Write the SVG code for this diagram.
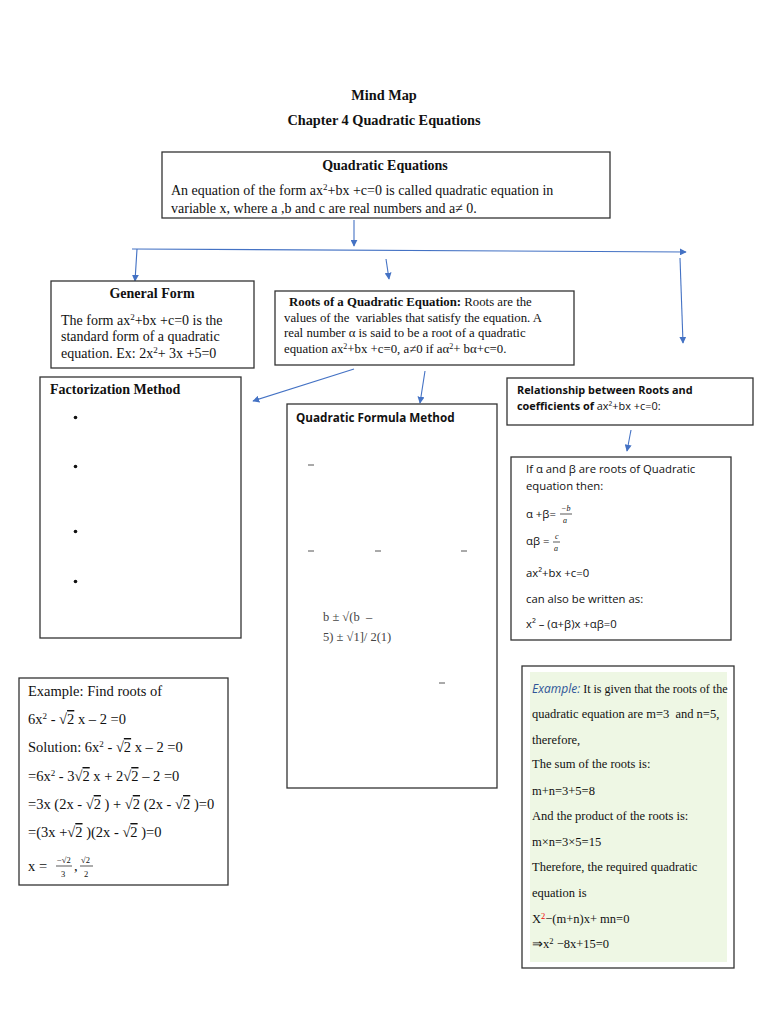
<svg xmlns="http://www.w3.org/2000/svg" width="768" height="1024" viewBox="0 0 768 1024">
<defs>
<marker id="ah" viewBox="0 0 10 10" refX="9" refY="5" markerWidth="7" markerHeight="7" orient="auto" markerUnits="userSpaceOnUse">
<path d="M0,0 L10,5 L0,10 z" fill="#4472c4"/>
</marker>
<style>
.box{fill:#fff;stroke:#333;stroke-width:1.3}
.ser{font-family:"Liberation Serif","Times New Roman",serif;fill:#111;white-space:pre}
.sans{font-family:"Open Sans","Noto Sans","Liberation Sans",sans-serif;fill:#111;white-space:pre}
.b{font-weight:bold}
.con{stroke:#4472c4;stroke-width:1.1;fill:none;marker-end:url(#ah)}
.ov{text-decoration:overline}
</style>
</defs>
<rect width="768" height="1024" fill="#fff"/>
<text class="ser b" x="384" y="100" font-size="14.3" text-anchor="middle">Mind Map</text>
<text class="ser b" x="384" y="125" font-size="14.3" text-anchor="middle">Chapter 4 Quadratic Equations</text>

<g id="connectors">
<path class="con" d="M354,220 L354,246"/>
<path class="con" d="M132,249 L686,252"/>
<path class="con" d="M137,249 L135,281"/>
<path class="con" d="M386,259 L389,279"/>
<path class="con" d="M680,258 L683,343"/>
<path class="con" d="M354,369 L253,401"/>
<path class="con" d="M425,371 L420,403"/>
<path class="con" d="M631,430 L627,451"/>
</g>

<g id="quadratic-equations">
<rect class="box" x="162" y="152" width="448" height="66"/>
<text class="ser b" x="385" y="170" font-size="14" text-anchor="middle">Quadratic Equations</text>
<text class="ser" x="171" y="195" font-size="14">An equation of the form ax<tspan font-size="9" dy="-5">2</tspan><tspan dy="5">+bx +c=0 is called quadratic equation in</tspan></text>
<text class="ser" x="171" y="213" font-size="14">variable x, where a ,b and c are real numbers and a≠ 0.</text>
</g>

<g id="general-form">
<rect class="box" x="51" y="281" width="203" height="87"/>
<text class="ser b" x="152" y="298" font-size="14" text-anchor="middle">General Form</text>
<text class="ser" x="61" y="325" font-size="14">The form ax<tspan font-size="9" dy="-5">2</tspan><tspan dy="5">+bx +c=0 is the</tspan></text>
<text class="ser" x="61" y="341" font-size="14">standard form of a quadratic</text>
<text class="ser" x="61" y="358" font-size="14">equation. Ex: 2x<tspan font-size="9" dy="-5">2</tspan><tspan dy="5">+ 3x +5=0</tspan></text>
</g>

<g id="roots">
<rect class="box" x="275" y="291" width="299" height="74"/>
<text class="ser" x="289" y="306" font-size="12.8"><tspan class="b">Roots of a Quadratic Equation:</tspan> Roots are the</text>
<text class="ser" x="284" y="322" font-size="12.8">values of the  variables that satisfy the equation. A</text>
<text class="ser" x="284" y="337" font-size="12.8">real number α is said to be a root of a quadratic</text>
<text class="ser" x="284" y="353" font-size="12.8">equation ax<tspan font-size="8" dy="-4">2</tspan><tspan dy="4">+bx +c=0, a≠0 if aα</tspan><tspan font-size="8" dy="-4">2</tspan><tspan dy="4">+ bα+c=0.</tspan></text>
</g>

<g id="factorization">
<rect class="box" x="40" y="377" width="201" height="261"/>
<text class="ser b" x="50" y="394" font-size="14">Factorization Method</text>
<circle cx="75.5" cy="417.5" r="1.8" fill="#111"/>
<circle cx="75.5" cy="466.5" r="1.8" fill="#111"/>
<circle cx="75.5" cy="531.5" r="1.8" fill="#111"/>
<circle cx="75.5" cy="581.5" r="1.8" fill="#111"/>
</g>

<g id="quadratic-formula">
<rect class="box" x="287" y="404" width="210" height="384"/>
<text class="sans b" x="296" y="422" font-size="11.7">Quadratic Formula Method</text>
<g stroke="#555" stroke-width="1">
<line x1="308" y1="465" x2="314" y2="465"/>
<line x1="308" y1="551" x2="314" y2="551"/>
<line x1="375" y1="551" x2="381" y2="551"/>
<line x1="461" y1="551" x2="467" y2="551"/>
<line x1="439" y1="683" x2="445" y2="683"/>
</g>
<text class="ser" x="323" y="621" font-size="12.5" style="fill:#444">b ± √(b  –</text>
<text class="ser" x="323" y="641" font-size="12.5" style="fill:#444">5) ± √1]/ 2(1)</text>
</g>

<g id="relationship">
<rect class="box" x="507" y="378" width="246" height="47"/>
<text class="sans b" x="517" y="394" font-size="10.9">Relationship between Roots and</text>
<text class="sans" x="517" y="410" font-size="10.9"><tspan class="b">coefficients of </tspan>ax²+bx +c=0:</text>
</g>

<g id="roots-relation">
<rect class="box" x="511" y="457" width="220" height="183"/>
<text class="sans" x="526" y="473" font-size="11.3">If α and β are roots of Quadratic</text>
<text class="sans" x="526" y="490" font-size="11.3">equation then:</text>
<text class="sans" x="526" y="518" font-size="11.3">α +β=</text>
<text class="ser" x="561" y="511" font-size="8" font-style="italic">−b</text>
<line x1="560" y1="514" x2="572" y2="514" stroke="#111" stroke-width="0.7"/>
<text class="ser" x="563" y="523" font-size="8" font-style="italic">a</text>
<text class="sans" x="526" y="545" font-size="11.3">αβ =</text>
<text class="ser" x="555" y="539" font-size="8" font-style="italic">c</text>
<line x1="553" y1="542" x2="560" y2="542" stroke="#111" stroke-width="0.7"/>
<text class="ser" x="554" y="551" font-size="8" font-style="italic">a</text>
<text class="sans" x="526" y="577" font-size="11.3">ax²+bx +c=0</text>
<text class="sans" x="526" y="603" font-size="11.3">can also be written as:</text>
<text class="sans" x="526" y="628" font-size="11.3">x² – (α+β)x +αβ=0</text>
</g>

<g id="example-left">
<rect class="box" x="19" y="678" width="209" height="207"/>
<text class="ser" x="28" y="696" font-size="14.5">Example: Find roots of</text>
<text class="ser" x="28" y="724" font-size="14.5">6x<tspan font-size="9" dy="-5">2</tspan><tspan dy="5"> - √</tspan><tspan class="ov">2</tspan> x – 2 =0</text>
<text class="ser" x="28" y="752" font-size="14.5">Solution: 6x<tspan font-size="9" dy="-5">2</tspan><tspan dy="5"> - √</tspan><tspan class="ov">2</tspan> x – 2 =0</text>
<text class="ser" x="28" y="781" font-size="14.5">=6x<tspan font-size="9" dy="-5">2</tspan><tspan dy="5"> - 3√</tspan><tspan class="ov">2</tspan> x + 2√<tspan class="ov">2</tspan> – 2 =0</text>
<text class="ser" x="28" y="809" font-size="14.5">=3x (2x - √<tspan class="ov">2</tspan> ) + √<tspan class="ov">2</tspan> (2x - √<tspan class="ov">2</tspan> )=0</text>
<text class="ser" x="28" y="837" font-size="14.5">=(3x +√<tspan class="ov">2</tspan> )(2x - √<tspan class="ov">2</tspan> )=0</text>
<text class="ser" x="28" y="871" font-size="14.5">x =</text>
<text class="ser" x="57" y="863" font-size="8.5">−√2</text>
<line x1="56" y1="866" x2="72" y2="866" stroke="#111" stroke-width="0.7"/>
<text class="ser" x="61" y="877" font-size="8.5">3</text>
<text class="ser" x="74" y="871" font-size="14.5">,</text>
<text class="ser" x="81" y="863" font-size="8.5">√2</text>
<line x1="80" y1="866" x2="93" y2="866" stroke="#111" stroke-width="0.7"/>
<text class="ser" x="84" y="877" font-size="8.5">2</text>
</g>

<g id="example-right">
<rect class="box" x="522" y="666" width="212" height="302"/>
<rect x="530" y="672" width="197" height="290" fill="#eef7e4"/>
<text x="532" y="693"><tspan font-family="Open Sans, Noto Sans, sans-serif" font-size="12" font-style="italic" fill="#2f5597">Example:</tspan><tspan class="ser" font-size="12" dx="3">It is given that the roots of the</tspan></text>
<text class="ser" x="532" y="718" font-size="12.5">quadratic equation are m=3  and n=5,</text>
<text class="ser" x="532" y="744" font-size="12.5">therefore,</text>
<text class="ser" x="532" y="768" font-size="12.5">The sum of the roots is:</text>
<text class="ser" x="532" y="795" font-size="12.5">m+n=3+5=8</text>
<text class="ser" x="532" y="820" font-size="12.5">And the product of the roots is:</text>
<text class="ser" x="532" y="846" font-size="12.5">m×n=3×5=15</text>
<text class="ser" x="532" y="871" font-size="12.5">Therefore, the required quadratic</text>
<text class="ser" x="532" y="897" font-size="12.5">equation is</text>
<text class="ser" x="532" y="923" font-size="12.5">X<tspan font-size="8.5" dy="-4" style="fill:#e00">2</tspan><tspan dy="4">−(m+n)x+ mn=0</tspan></text>
<text class="ser" x="532" y="948" font-size="12.5">⇒x<tspan font-size="8.5" dy="-4">2</tspan><tspan dy="4"> −8x+15=0</tspan></text>
</g>
</svg>
